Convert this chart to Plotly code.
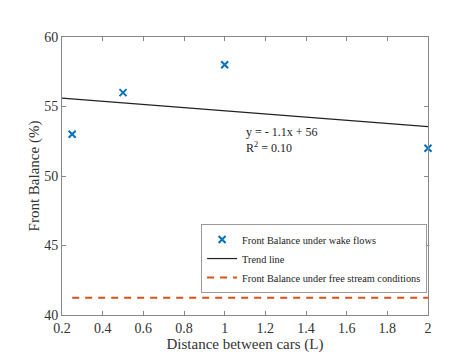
import plotly.graph_objects as go

# Data
distance = [0.25, 0.5, 1.0, 2.0]
front_balance = [53, 56, 58, 52]
trend_x = [0.2, 2.0]
trend_y = [55.6, 53.55]
free_x = [0.25, 2.0]
free_y = [41.25, 41.25]
x_ticks = [0.2, 0.4, 0.6, 0.8, 1.0, 1.2, 1.4, 1.6, 1.8, 2.0]
x_tick_labels = ["0.2", "0.4", "0.6", "0.8", "1", "1.2", "1.4", "1.6", "1.8", "2"]
y_ticks = [40, 45, 50, 55, 60]

FONT = "Liberation Serif"

fig = go.Figure()
fig.add_trace(go.Scatter(
    x=distance, y=front_balance, mode="markers",
    name="Front Balance under wake flows",
    marker=dict(symbol="x-thin", size=7, color="#0072BD",
                line=dict(width=2, color="#0072BD")),
    cliponaxis=False,
))
fig.add_trace(go.Scatter(
    x=trend_x, y=trend_y, mode="lines", name="Trend line",
    line=dict(color="#222222", width=1.2),
))
fig.add_trace(go.Scatter(
    x=free_x, y=free_y, mode="lines",
    name="Front Balance under free stream conditions",
    line=dict(color="#D95319", width=2, dash="7px,6px"),
))

fig.add_annotation(
    x=1.1, y=53.75, xref="x", yref="y", xanchor="left", yanchor="top",
    text="y = - 1.1x + 56<br>R<sup>2</sup> = 0.10", showarrow=False, align="left",
    font=dict(family=FONT, size=12, color="#222222"), borderpad=0,
)

axis_common = dict(
    showgrid=False, zeroline=False, showline=True, linecolor="#888888",
    linewidth=1, mirror="ticks", ticks="inside", ticklen=4, tickcolor="#888888",
    tickfont=dict(family=FONT, size=14, color="#333333"), automargin=False,
)
fig.update_xaxes(range=[0.2, 2.0], tickvals=x_ticks, ticktext=x_tick_labels,
                 title=dict(text="Distance between cars (L)",
                            font=dict(family=FONT, size=15, color="#333333"),
                            standoff=2),
                 **axis_common)
fig.update_yaxes(range=[40, 60], tickvals=y_ticks,
                 title=dict(text="Front Balance (%)",
                            font=dict(family=FONT, size=15, color="#333333"),
                            standoff=0),
                 **axis_common)

# The page body adds an 8px offset, so the figure is 8px smaller on each axis
fig.update_layout(
    width=466, height=347,
    margin=dict(l=54, r=46, t=29, b=40),
    paper_bgcolor="white", plot_bgcolor="white",
    showlegend=True,
    legend=dict(x=0.38, y=0.079, xanchor="left", yanchor="bottom",
                bgcolor="white", bordercolor="#999999", borderwidth=1,
                font=dict(family=FONT, size=10.3, color="#222222"),
                tracegroupgap=0, itemwidth=30),
)

fig.write_html("out.html")
